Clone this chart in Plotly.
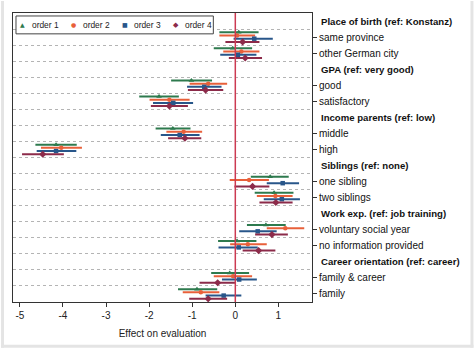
import plotly.graph_objects as go

# ---------------- data ----------------
rows = ["Place of birth (ref: Konstanz)", "same province", "other German city",
        "GPA (ref: very good)", "good", "satisfactory",
        "Income parents (ref: low)", "middle", "high",
        "Siblings (ref: none)", "one sibling", "two siblings",
        "Work exp. (ref: job training)", "voluntary social year", "no information provided",
        "Career orientation (ref: career)", "family & career", "family"]
headers = [0, 3, 6, 9, 12, 15]
items = ["same province", "other German city", "good", "satisfactory", "middle", "high",
         "one sibling", "two siblings", "voluntary social year", "no information provided",
         "family & career", "family"]

series_names = ["order 1", "order 2", "order 3", "order 4"]

o1_est = [0.08, -0.06, -1.02, -1.77, -1.45, -4.16, 0.81, 0.90, 0.71, 0.04, -0.13, -0.89]
o1_lo = [-0.37, -0.50, -1.49, -2.23, -1.85, -4.64, 0.36, 0.45, 0.27, -0.40, -0.56, -1.33]
o1_hi = [0.54, 0.39, -0.54, -1.31, -1.04, -3.68, 1.24, 1.35, 1.17, 0.49, 0.32, -0.42]

o2_est = [0.04, 0.14, -0.63, -1.53, -1.20, -4.04, 0.32, 0.93, 1.16, 0.29, -0.05, -0.80]
o2_lo = [-0.37, -0.28, -1.06, -1.99, -1.60, -4.51, -0.13, 0.50, 0.73, -0.12, -0.50, -1.22]
o2_hi = [0.46, 0.56, -0.19, -1.06, -0.77, -3.56, 0.78, 1.33, 1.60, 0.73, 0.39, -0.37]

o3_est = [0.44, 0.06, -0.72, -1.44, -1.29, -4.16, 1.10, 1.08, 0.52, 0.08, 0.09, -0.27]
o3_lo = [-0.04, -0.35, -1.12, -1.91, -1.73, -4.61, 0.73, 0.66, 0.09, -0.39, -0.31, -0.69]
o3_hi = [0.87, 0.49, -0.32, -0.98, -0.83, -3.69, 1.48, 1.50, 0.96, 0.52, 0.50, 0.14]

o4_est = [0.17, 0.23, -0.69, -1.53, -1.17, -4.47, 0.40, 0.94, 0.85, 0.54, -0.41, -0.63]
o4_lo = [-0.23, -0.15, -1.10, -1.96, -1.56, -4.95, -0.02, 0.56, 0.46, 0.17, -0.83, -1.07]
o4_hi = [0.56, 0.62, -0.28, -1.10, -0.79, -3.98, 0.79, 1.33, 1.22, 0.93, 0.01, -0.19]

x_ticks = [-5, -4, -3, -2, -1, 0, 1]

# ---------------- styling ----------------
colors = ["#2e7a4e", "#e8603a", "#28568a", "#8c2b4a"]
symbols = ["triangle-up", "circle", "square", "diamond"]
glyphs = ["\u25B2", "\u25CF", "\u25A0", "\u25C6"]
glyph_sizes = [6, 6, 6, 7]
msizes = [5, 4.5, 4.5, 5.5]
offsets = [-0.3, -0.1, 0.1, 0.3]
FONT = "Liberation Sans, Arial, Helvetica, sans-serif"

W, H = 474, 349
ML, MR, MT, MB = 12, 162, 12, 46
pw, ph = W - ML - MR, H - MT - MB


def px(v):
    return (v - ML) / pw


def py(v):
    return 1 - (v - MT) / ph


item_rows = [i for i in range(len(rows)) if i not in headers]

fig = go.Figure()
all_series = [(o1_est, o1_lo, o1_hi), (o2_est, o2_lo, o2_hi),
              (o3_est, o3_lo, o3_hi), (o4_est, o4_lo, o4_hi)]
for k, (est, lo, hi) in enumerate(all_series):
    fig.add_trace(go.Scatter(
        x=est,
        y=[r + offsets[k] for r in item_rows],
        mode="markers",
        name=series_names[k],
        showlegend=False,
        marker=dict(symbol=symbols[k], size=msizes[k], color=colors[k], line=dict(width=0)),
        error_x=dict(type="data", symmetric=False,
                     array=[h - e for h, e in zip(hi, est)],
                     arrayminus=[e - l for e, l in zip(est, lo)],
                     color=colors[k], thickness=2, width=0),
    ))

# headers as bold annotations on the right
for h in headers:
    fig.add_annotation(x=1, xref="paper", y=h, yref="y", xanchor="left", yanchor="middle",
                       xshift=7, text="<b>%s</b>" % rows[h], showarrow=False,
                       font=dict(family=FONT, size=9.6, color="#111"))

# reference line at zero
fig.add_shape(type="line", x0=0, x1=0, xref="x", y0=0, y1=1, yref="paper",
              line=dict(color="#cc3a52", width=1.5), layer="above")

# legend box (drawn manually to match the compact key spacing)
leg_x0, leg_x1, leg_y0, leg_y1 = 15, 213, 15, 33
fig.add_shape(type="rect", xref="paper", yref="paper",
              x0=px(leg_x0), x1=px(leg_x1), y0=py(leg_y1), y1=py(leg_y0),
              line=dict(color="#444", width=1), fillcolor="white", layer="above")
key_x = [22, 73, 124, 176]
for k in range(4):
    fig.add_annotation(x=px(key_x[k]), y=py(24), xref="paper", yref="paper",
                       xanchor="center", yanchor="middle", showarrow=False,
                       text=glyphs[k], font=dict(family="DejaVu Sans", size=glyph_sizes[k],
                                                 color=colors[k]))
    fig.add_annotation(x=px(key_x[k] + 7), y=py(24), xref="paper", yref="paper",
                       xanchor="left", yanchor="middle", showarrow=False,
                       text=series_names[k], font=dict(family=FONT, size=8.4, color="#222"))

# light-grey outer border (left, right, bottom)
for (a, b, c, d) in [(0, 3, 0, H), (W - 3, W, 0, H), (0, W, H - 3, H)]:
    fig.add_shape(type="rect", xref="paper", yref="paper",
                  x0=px(a), x1=px(b), y0=py(d), y1=py(c),
                  line=dict(width=0), fillcolor="#e4e4e4", layer="below")

fig.update_layout(
    width=W, height=H,
    margin=dict(l=ML, r=MR, t=MT, b=MB),
    paper_bgcolor="white", plot_bgcolor="white",
    font=dict(family=FONT, size=10, color="#222"),
    showlegend=False,
    xaxis=dict(range=[-5.16, 1.78], tickvals=x_ticks, ticktext=[str(t) for t in x_ticks],
               ticks="outside", ticklen=4, tickcolor="#333",
               showgrid=False, zeroline=False, showline=True, mirror=True,
               linecolor="#333", linewidth=1,
               title=dict(text="Effect on evaluation", standoff=9, font=dict(size=10))),
    yaxis=dict(range=[len(rows) - 0.5, -0.5], side="right",
               tickvals=item_rows, ticktext=[rows[i] for i in item_rows],
               ticks="outside", ticklen=4, tickcolor="#333",
               showgrid=False, zeroline=False, showline=True, mirror=True,
               linecolor="#333", linewidth=1,
               tickfont=dict(size=10, color="#111"),
               minor=dict(tickvals=[i + 0.5 for i in range(len(rows) - 1)],
                          showgrid=True, gridcolor="#b4b4b4", griddash="3px,3px",
                          gridwidth=1, ticks="")),
)

fig.write_html("out.html")
